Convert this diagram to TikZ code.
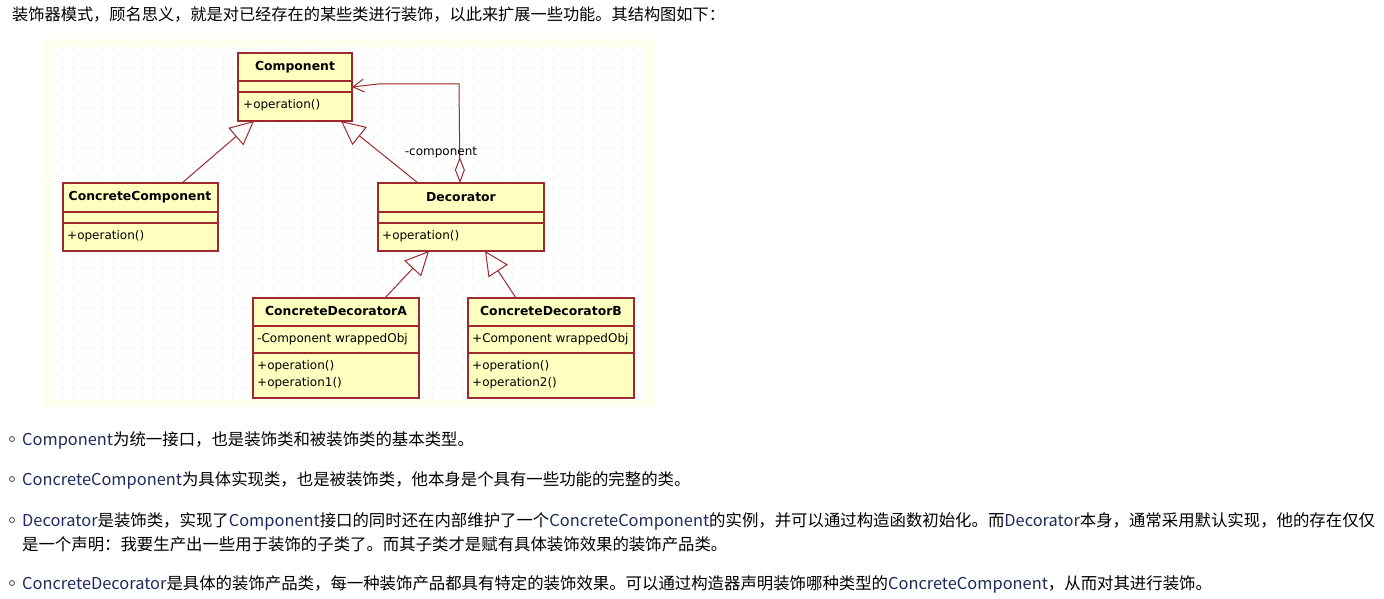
\documentclass[tikz,border=0pt]{standalone}
\usepackage{fontspec}
\setmainfont{Noto Sans CJK SC}
\newfontfamily\umlfont{DejaVu Sans}
\usepackage{tikz}
\usetikzlibrary{arrows,arrows.meta,positioning}
\definecolor{umlred}{HTML}{9E2A2F}
\definecolor{umlfill}{HTML}{FFFFC0}
\definecolor{framecream}{HTML}{FFFFF0}
\definecolor{griddot}{HTML}{C4C4C4}
\definecolor{latinblue}{HTML}{1F2B5C}
\newcommand{\en}[1]{{\color{latinblue}#1}}
\tikzset
{
    classbox/.style  = {rectangle, draw=umlred, fill=umlfill, line width=1.2pt, inner sep=0pt, outer sep=0pt, anchor=north west},
    classname/.style = {font=\umlfont\bfseries\fontsize{12.4}{14}\selectfont, inner sep=0pt},
    member/.style    = {font=\umlfont\fontsize{12}{17}\selectfont, anchor=west, align=left, inner sep=0pt},
    divider/.style   = {draw=umlred, line width=1.2pt},
    inherit/.style   = {draw=umlred, line width=1pt, -{Triangle[open, length=24pt, width=23pt]}},
    aggregate/.style = {draw=umlred, line width=1pt, {Diamond[open, length=26pt, width=10pt]}-{Straight Barb[length=11pt, width=13pt]}},
    bodytext/.style  = {anchor=base west, inner sep=0pt, font=\fontsize{16.4}{24}\selectfont},
    bulletmark/.style = {circle, draw=black!75, line width=0.8pt, minimum size=5pt, inner sep=0pt}
}
\begin{document}
\begin{tikzpicture}[x=1pt, y=-1pt]
    \useasboundingbox (0,0) rectangle (1384,599);
    \node[bodytext, font=\fontsize{16.2}{20}\selectfont] (title) at (12,21) {装饰器模式，顾名思义，就是对已经存在的某些类进行装饰，以此来扩展一些功能。其结构图如下：};

    % frame of the class diagram
    \fill[framecream] (44,39) rectangle (656,407);
    \fill[white] (54,47) rectangle (643,400);
    \foreach \x in {63,73,...,633}
        \foreach \y in {48,58,...,398}
            \fill[griddot] (\x,\y) circle (0.6);

    % classes
    \node[classbox, minimum width=114, minimum height=68] (component) at (238,53) {};
    \draw[divider] (238,81) -- (352,81);
    \draw[divider] (238,92) -- (352,92);
    \node[classname] (component-name) at (295,67) {Component};
    \node[member] (component-ops) at (243,105) {+operation()};

    \node[classbox, minimum width=155, minimum height=68] (concretecomponent) at (63,183) {};
    \draw[divider] (63,212) -- (218,212);
    \draw[divider] (63,223) -- (218,223);
    \node[classname] (concretecomponent-name) at (140,197) {ConcreteComponent};
    \node[member] (concretecomponent-ops) at (67,236) {+operation()};

    \node[classbox, minimum width=166, minimum height=68] (decorator) at (378,183) {};
    \draw[divider] (378,212) -- (544,212);
    \draw[divider] (378,223) -- (544,223);
    \node[classname] (decorator-name) at (461,197) {Decorator};
    \node[member] (decorator-ops) at (382,236) {+operation()};

    \node[classbox, minimum width=166, minimum height=100] (decoratora) at (253,298) {};
    \draw[divider] (253,326) -- (419,326);
    \draw[divider] (253,353) -- (419,353);
    \node[classname] (decoratora-name) at (336,311) {ConcreteDecoratorA};
    \node[member] (decoratora-attr) at (257,339) {-Component wrappedObj};
    \node[member] (decoratora-ops) at (257,374.5) {+operation()\\+operation1()};

    \node[classbox, minimum width=166, minimum height=100] (decoratorb) at (468,298) {};
    \draw[divider] (468,326) -- (634,326);
    \draw[divider] (468,353) -- (634,353);
    \node[classname] (decoratorb-name) at (551,311) {ConcreteDecoratorB};
    \node[member] (decoratorb-attr) at (472,339) {+Component wrappedObj};
    \node[member] (decoratorb-ops) at (472,374.5) {+operation()\\+operation2()};

    % relations
    \draw[inherit] ([xshift=119pt]concretecomponent.north west) -- ([xshift=16pt]component.south west);
    \draw[inherit] ([xshift=40pt]decorator.north west) -- ([xshift=103pt]component.south west);
    \draw[inherit] ([xshift=132pt]decoratora.north west) -- ([xshift=51pt]decorator.south west);
    \draw[inherit] ([xshift=48pt]decoratorb.north west) -- ([xshift=107pt]decorator.south west);
    \coordinate (agg-up) at (459,84);
    \coordinate (agg-left) at (378,84);
    \draw[aggregate] ([xshift=82pt]decorator.north west) -- (agg-up) -- (agg-left) -- (component.east);
    \node[member, anchor=center] (agg-label) at (441,153) {-component};

    % notes below the diagram
    \node[bulletmark] (dot1) at (12,439) {};
    \node[bodytext] (item1) at (22,445.5) {\en{Component}为统一接口，也是装饰类和被装饰类的基本类型。};
    \node[bulletmark] (dot2) at (12,479) {};
    \node[bodytext] (item2) at (22,485.5) {\en{ConcreteComponent}为具体实现类，也是被装饰类，他本身是个具有一些功能的完整的类。};
    \node[bulletmark] (dot3) at (12,520) {};
    \node[bodytext] (item3a) at (22,526.5) {\en{Decorator}是装饰类，实现了\en{Component}接口的同时还在内部维护了一个\en{ConcreteComponent}的实例，并可以通过构造函数初始化。而\en{Decorator}本身，通常采用默认实现，他的存在仅仅};
    \node[bodytext] (item3b) at (22,550.5) {是一个声明：我要生产出一些用于装饰的子类了。而其子类才是赋有具体装饰效果的装饰产品类。};
    \node[bulletmark] (dot4) at (12,583) {};
    \node[bodytext] (item4) at (22,589.5) {\en{ConcreteDecorator}是具体的装饰产品类，每一种装饰产品都具有特定的装饰效果。可以通过构造器声明装饰哪种类型的\en{ConcreteComponent}，从而对其进行装饰。};
\end{tikzpicture}
\end{document}
